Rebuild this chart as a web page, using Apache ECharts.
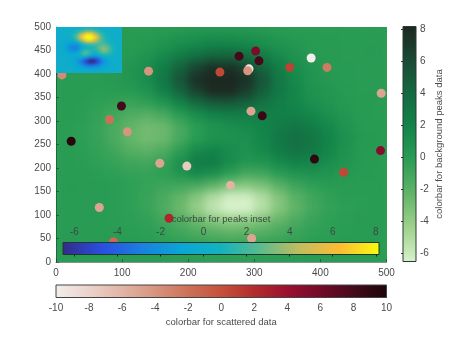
<!DOCTYPE html>
<html>
<head>
<meta charset="utf-8">
<style>
html,body{margin:0;padding:0;background:#fff;width:474px;height:355px;overflow:hidden}
.layer{position:absolute}
</style>
<script src="https://cdn.jsdelivr.net/npm/echarts@6/dist/echarts.min.js"></script>
</head>
<body>
<div class="layer" style="left:56px;top:27px;width:331px;height:235px;overflow:hidden;background:#2c9e55">
  <div id="bg" style="width:331px;height:235px;filter:blur(5px)"></div>
</div>
<div id="main" class="layer" style="left:0;top:0;width:474px;height:355px"></div>
<div class="layer" style="left:56px;top:27px;width:66px;height:46px;overflow:hidden;background:#10aed0">
  <div id="inset" style="width:66px;height:46px;filter:blur(1px)"></div>
</div>
<script>
// Surface values, rows top (y=500) to bottom (y=0), columns left to right
const peaksGrid = [
[0,0,0,0,.1,.1,.2,.4,.6,.7,.7,.6,.4,.2,.1,.1,0,0,0,0],
[0,0,0,.1,.1,.3,.7,1.2,1.6,2,2,1.7,1.2,.7,.4,.1,.1,0,0,0],
[0,0,0,.1,.3,.7,1.5,2.6,3.7,4.5,4.5,3.8,2.6,1.5,.8,.3,.1,0,0,0],
[0,0,0,.2,.5,1.2,2.5,4.5,6.4,7.6,7.6,6.4,4.3,2.5,1.3,.5,.2,.1,0,0],
[0,0,0,.1,.5,1.3,2.9,5.3,7.6,8.9,8.9,7.6,5.3,2.9,1.5,.6,.3,.1,0,0],
[0,0,-.1,0,.1,.7,2.2,4.3,6.5,7.9,8,6.8,4.7,2.9,1.7,.8,.4,.2,0,0],
[0,-.1,-.3,-.5,-.7,-.4,.5,2,3.8,4.9,5.1,4.4,3.3,2.4,1.8,1.1,.6,.3,.1,0],
[0,-.1,-.5,-1,-1.6,-1.9,-1.3,-.1,1.2,2,2.3,2.3,2.2,2.3,2.2,1.7,1,.4,.1,0],
[-.1,-.2,-.6,-1.4,-2.3,-2.8,-2.6,-1.3,-.1,.7,1.1,1.4,1.9,2.6,3.1,2.5,1.6,.7,.2,.1],
[-.1,-.2,-.6,-1.4,-2.4,-2.9,-2.6,-1.3,0,.8,.9,1,1.8,2.9,3.6,3.1,1.9,.9,.3,.1],
[0,-.1,-.5,-1,-1.8,-2.1,-1.6,-.2,1.4,1.9,1.3,.9,1.5,2.6,3.3,2.9,1.8,.8,.2,.1],
[0,-.1,-.3,-.6,-1,-1.1,-.6,.9,2.5,2.6,1.4,.5,.7,1.5,2.2,2,1.3,.6,.2,0],
[0,0,-.1,-.3,-.5,-.6,-.3,.6,1.5,1.1,-.2,-1.2,-1,-.1,.6,.8,.6,.3,.1,0],
[0,0,0,-.1,-.3,-.6,-.9,-1,-1.3,-2.2,-3.3,-3.7,-3.2,-2,-.9,-.3,0,0,0,0],
[0,0,0,-.1,-.3,-.7,-1.4,-2.3,-3.6,-5.1,-6.3,-6.3,-5.1,-3.4,-2,-1,-.4,-.1,-.1,0],
[0,0,0,-.1,-.3,-.7,-1.5,-2.6,-4.1,-5.6,-6.6,-6.5,-5.2,-3.5,-2.2,-1.1,-.5,-.2,-.1,0],
[0,0,0,-.1,-.2,-.4,-1,-1.7,-2.6,-3.5,-4,-3.8,-3.2,-2.3,-1.4,-.7,-.3,-.1,0,0],
[0,0,0,0,-.1,-.2,-.5,-1,-1.5,-1.9,-2.2,-2.1,-1.8,-1.3,-.8,-.4,-.2,-.1,0,0],
[0,0,0,0,0,-.1,-.2,-.3,-.5,-.7,-.8,-.8,-.6,-.5,-.3,-.1,-.1,0,0,0],
[0,0,0,0,0,0,0,-.1,-.1,-.2,-.2,-.2,-.2,-.1,-.1,0,0,0,0,0]
];
// Scattered points
const scatterX = [9,140,248,99,81,108,23,277,302,307,292,290,353.5,386,410,492,295,312,491,391,435,264,296,157,198,65.5,171,87];
const scatterY = [398,406,404,332,303,277,257,438,449,428,411,407,414,434,414,359,321,311,237,219,191,163,50,210,204,116,93,43];
const scatterV = [-3.5,-4,0.5,8,-2,-4,9.5,8,5.5,8,-9.5,-4,0.8,-10,-2.5,-5,-5,8.5,5,9,0.5,-6,-5,-5,-7.5,-5,2.5,-1.5];
// Tick labels
const mainXTicks = [0,100,200,300,400,500];
const mainYTicks = [0,50,100,150,200,250,300,350,400,450,500];
const peakTicks = [-6,-4,-2,0,2,4,6,8];
const scatterTicks = [-10,-8,-6,-4,-2,0,2,4,6,8,10];
// Colour maps
const greenMap = ['#d8f2cc','#a0d28e','#63b468','#2c9e55','#13854a','#146a41','#1a4a35','#1c2721'];
const parulaMap = ['#352a87','#2a4fe0','#1a80e0','#0aa6d6','#14b2bf','#5cbb8c','#c5bc5c','#fcbc34','#f9fb0e'];
const redMap = ['#f3eeec','#ebd3cb','#e2b4a5','#d7947f','#cc7158','#c6503a','#b32c2c','#9a1030','#720a28','#440a1a','#1d0508'];
const peakMin = -6.53, peakMax = 8.15;

const cells = [];
peaksGrid.forEach((row, r) => row.forEach((v, c) => cells.push([c, r, v])));
const colIds = peaksGrid[0].map((_, i) => i);
const rowIds = peaksGrid.map((_, i) => i);

function surface(id, colors) {
  const c = echarts.init(document.getElementById(id), null, {renderer: 'canvas'});
  c.setOption({
    animation: false,
    grid: {left: 0, right: 0, top: 0, bottom: 0},
    xAxis: {type: 'category', data: colIds, show: false},
    yAxis: {type: 'category', data: rowIds, show: false, inverse: true},
    visualMap: {show: false, min: peakMin, max: peakMax, dimension: 2, inRange: {color: colors}},
    series: [{type: 'heatmap', data: cells, itemStyle: {borderWidth: 0}}]
  });
}
surface('bg', greenMap);
surface('inset', parulaMap);

function ramp(colors, x, y, x2, y2) {
  const n = colors.length - 1;
  return new echarts.graphic.LinearGradient(x, y, x2, y2,
    colors.map((color, i) => ({offset: i / n, color})));
}
const textCol = '#4a4a4a', font = {fontFamily: '"Liberation Sans", Arial, sans-serif'};
const labelStyle = {color: textCol, fontSize: 10, ...font};

const main = echarts.init(document.getElementById('main'), null, {renderer: 'canvas'});
main.setOption({
  animation: false,
  backgroundColor: 'transparent',
  grid: [
    {left: 56, top: 27, width: 330.5, height: 235, show: false},
    {left: 403, top: 26.5, width: 13, height: 235, show: true, z: 1,
      backgroundColor: ramp(greenMap, 0, 1, 0, 0), borderColor: '#2b3a33', borderWidth: 1},
    {left: 56, top: 285, width: 330.5, height: 12.5, show: true, z: 1,
      backgroundColor: ramp(redMap, 0, 0, 1, 0), borderColor: '#444', borderWidth: 1},
    {left: 63, top: 242.5, width: 316, height: 12, show: true, z: 10,
      backgroundColor: ramp(parulaMap, 0, 0, 1, 0), borderColor: '#1d3a2c', borderWidth: 1}
  ],
  xAxis: [
    {gridIndex: 0, type: 'value', min: 0, max: 500, interval: 100, splitLine: {show: false},
      axisLine: {show: true, onZero: false, lineStyle: {color: 'rgba(30,60,45,.55)', width: 1}},
      axisTick: {show: true, inside: true, length: 3, lineStyle: {color: 'rgba(30,60,45,.6)'}},
      axisLabel: {...labelStyle, margin: 6, customValues: mainXTicks}},
    {gridIndex: 1, type: 'value', min: 0, max: 1, show: false},
    {gridIndex: 2, type: 'value', min: -10, max: 10, interval: 2, splitLine: {show: false},
      axisLine: {show: false}, axisTick: {show: true, inside: true, length: 2, lineStyle: {color: '#333'}},
      axisLabel: {...labelStyle, margin: 6, customValues: scatterTicks},
      name: 'colorbar for scattered data', nameLocation: 'middle', nameGap: 20,
      nameTextStyle: {color: textCol, fontSize: 9.5, ...font}},
    {gridIndex: 3, type: 'value', position: 'top', min: peakMin, max: peakMax, z: 11, splitLine: {show: false},
      axisLine: {show: false},
      axisTick: {show: true, inside: true, length: 2, lineStyle: {color: '#222'}, customValues: peakTicks},
      axisLabel: {color: '#3d4a42', fontSize: 10, ...font, margin: 5, customValues: peakTicks},
      name: 'colorbar for peaks inset', nameLocation: 'middle', nameGap: 18,
      nameTextStyle: {color: '#3a4a40', fontSize: 9.5, ...font}}
  ],
  yAxis: [
    {gridIndex: 0, type: 'value', min: 0, max: 500, interval: 50, splitLine: {show: false},
      axisLine: {show: true, onZero: false, lineStyle: {color: 'rgba(30,60,45,.55)', width: 1}},
      axisTick: {show: true, inside: true, length: 3, lineStyle: {color: 'rgba(30,60,45,.6)'}},
      axisLabel: {...labelStyle, margin: 5, customValues: mainYTicks}},
    {gridIndex: 1, type: 'value', position: 'right', min: peakMin, max: peakMax, splitLine: {show: false},
      axisLine: {show: false},
      axisTick: {show: true, inside: true, length: 2, lineStyle: {color: '#333'}, customValues: peakTicks},
      axisLabel: {...labelStyle, margin: 4, customValues: peakTicks},
      name: 'colorbar for background peaks data', nameLocation: 'middle', nameGap: 18, nameRotate: 90,
      nameTextStyle: {color: textCol, fontSize: 9.5, ...font}},
    {gridIndex: 2, type: 'value', min: 0, max: 1, show: false},
    {gridIndex: 3, type: 'value', min: 0, max: 1, show: false}
  ],
  visualMap: {show: false, seriesIndex: 0, min: -10, max: 10, dimension: 2, inRange: {color: redMap}},
  series: [{
    type: 'scatter', xAxisIndex: 0, yAxisIndex: 0, symbolSize: 9, z: 2, clip: false,
    itemStyle: {opacity: 1},
    data: scatterX.map((x, i) => [x, scatterY[i], scatterV[i]])
  }]
});
</script>
</body>
</html>
